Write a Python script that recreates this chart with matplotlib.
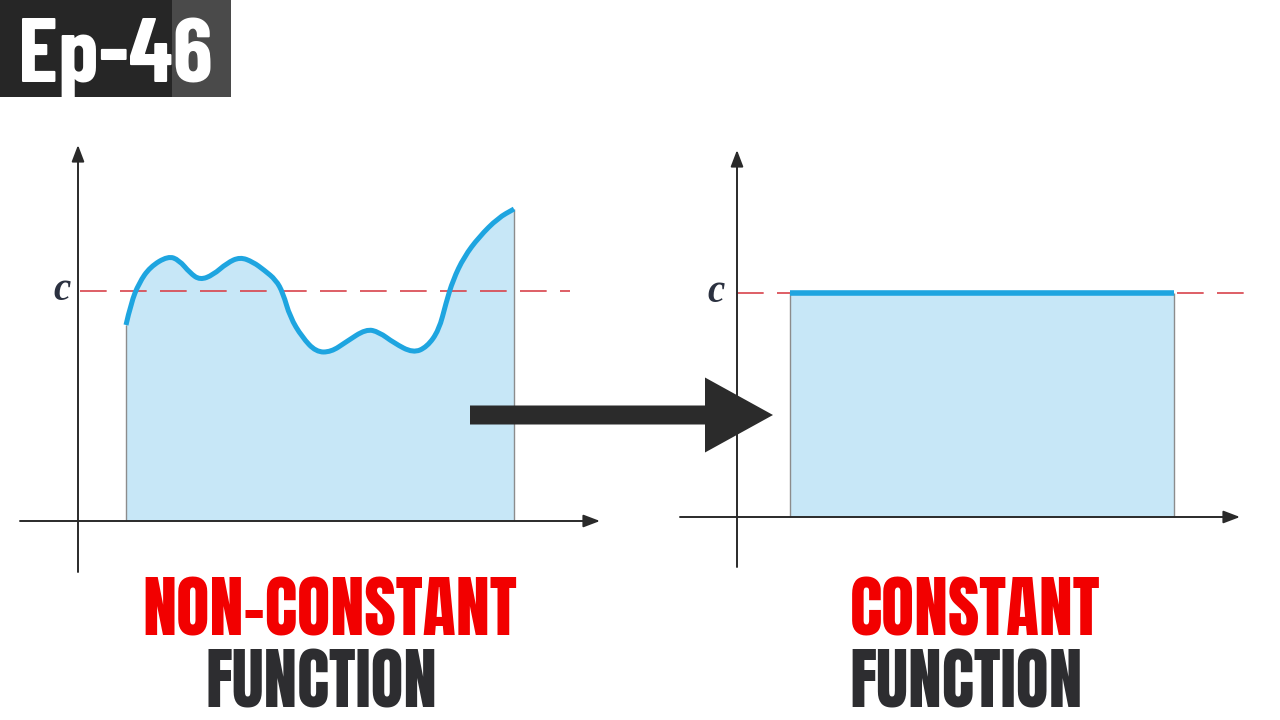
import numpy as np
import matplotlib.pyplot as plt
from matplotlib.patches import Rectangle, PathPatch
from matplotlib.path import Path

# left panel: wavy curve, units of 100 px from the axis crossing
curve_x = [0.48, 0.53, 0.61, 0.72, 0.90, 1.01, 1.12, 1.22, 1.35, 1.49, 1.62, 1.75,
           1.86, 1.98, 2.05, 2.12, 2.24, 2.38, 2.53, 2.68, 2.88, 3.01, 3.16, 3.35,
           3.49, 3.61, 3.68, 3.75, 3.86, 4.01, 4.20, 4.36]
curve_y = [1.96, 2.18, 2.38, 2.54, 2.65, 2.61, 2.48, 2.41, 2.46, 2.58, 2.64, 2.59,
           2.51, 2.41, 2.28, 2.04, 1.84, 1.69, 1.69, 1.79, 1.92, 1.89, 1.78, 1.68,
           1.74, 1.91, 2.18, 2.41, 2.64, 2.84, 3.03, 3.12]
c_left = 2.30

# right panel: constant function
const_x = [0.53, 4.37]
c_right = 2.24

labels_top = ['NON-CONSTANT', 'CONSTANT']
label_bottom = 'FUNCTION'
episode = 'Ep-46'

caption_font = dict(family=['Anton', 'DejaVu Sans'])
badge_font = dict(family=['Barlow Condensed', 'DejaVu Sans'], weight=700)
c_font = dict(family='Liberation Serif', style='italic', weight='bold', fontsize=28, color='#2b3140')

blue = '#1ea5e0'
fill = '#c7e7f7'
red_dash = '#d8434b'

fig = plt.figure(figsize=(12.8, 7.2), dpi=100)
fig.patch.set_facecolor('white')


def panel(ox, oy):
    ax = fig.add_axes([0, 0, 1, 1])
    ax.set_xlim(-ox / 100, (1280 - ox) / 100)
    ax.set_ylim(-(720 - oy) / 100, oy / 100)
    ax.axis('off')
    ax.patch.set_alpha(0)
    return ax


def draw_axes(ax, x0, x1, y0, y1):
    style = dict(arrowstyle='-|>,head_length=1.0,head_width=0.38', color='#2a2a2a',
                 lw=1.4, shrinkA=0, shrinkB=0)
    ax.annotate('', xy=(x1, 0), xytext=(x0, 0), arrowprops=style)
    ax.annotate('', xy=(0, y1), xytext=(0, y0), arrowprops=style)


def smooth(xs, ys):
    # quadratic bezier through midpoints, so the read points give a smooth stroke
    verts, codes = [], []
    for i in range(1, len(xs) - 1):
        verts += [(xs[i], ys[i]), ((xs[i] + xs[i + 1]) / 2, (ys[i] + ys[i + 1]) / 2)]
        codes += [Path.CURVE3, Path.CURVE3]
    verts.append((xs[-1], ys[-1]))
    codes.append(Path.LINETO)
    return verts, codes


# left panel
axL = panel(78, 521)
cv, cc = smooth(curve_x, curve_y)
area = Path([(curve_x[0], 0), (curve_x[0], curve_y[0])] + cv + [(curve_x[-1], 0), (curve_x[0], 0)],
            [Path.MOVETO, Path.LINETO] + cc + [Path.LINETO, Path.CLOSEPOLY])
axL.add_patch(PathPatch(area, facecolor=fill, lw=0, zorder=1))
axL.vlines([curve_x[0], curve_x[-1]], 0, [curve_y[0], curve_y[-1]], color='#8c8c8c', lw=1, zorder=2)
axL.plot([0.02, 4.92], [c_left, c_left], color=red_dash, lw=1.2, dashes=(16, 8), zorder=3)
stroke = Path([(curve_x[0], curve_y[0])] + cv, [Path.MOVETO] + cc)
axL.add_patch(PathPatch(stroke, fill=False, edgecolor=blue, lw=3.6, capstyle='butt',
                        joinstyle='round', zorder=4))
draw_axes(axL, -0.58, 5.22, -0.51, 3.76)
axL.text(-0.16, c_left, 'c', ha='center', va='center', **c_font)

# right panel
axR = panel(737, 517)
axR.fill_between(const_x, 0, c_right, color=fill, lw=0, zorder=1)
axR.vlines(const_x, 0, c_right, color='#8c8c8c', lw=1, zorder=2)
axR.plot([0.0, 5.13], [c_right, c_right], color=red_dash, lw=1.2, dashes=(16, 8), zorder=3)
axR.plot(const_x, [c_right, c_right], color=blue, lw=4, solid_capstyle='butt', zorder=4)
draw_axes(axR, -0.57, 5.03, -0.50, 3.67)
axR.text(-0.21, c_right, 'c', ha='center', va='center', **c_font)

# big transition arrow
axR.arrow(-2.67, 1.02, 3.03, 0, width=0.19, head_width=0.75, head_length=0.68,
          length_includes_head=True, color='#2b2b2b', lw=0, zorder=6)

# episode badge
fig.add_artist(Rectangle((0, 1 - 97 / 720), 172 / 1280, 97 / 720, transform=fig.transFigure,
                         color='#262626', lw=0))
fig.add_artist(Rectangle((172 / 1280, 1 - 97 / 720), 59 / 1280, 97 / 720, transform=fig.transFigure,
                         color='#4a4a4a', lw=0))

renderer = fig.canvas.get_renderer()


def fitted(xc, base, s, width, color, font):
    t = fig.text(xc / 1280, 1 - base / 720, s, color=color, fontsize=50, ha='center',
                 va='baseline', **font)
    w = t.get_window_extent(renderer).width
    t.set_fontsize(50 * width / w)
    return t


fitted(115, 82, episode, 195, 'white', badge_font)
fitted(330, 635, labels_top[0], 374, '#f20000', caption_font)
fitted(321, 708, label_bottom, 232, '#2d2d30', caption_font)
fitted(975, 635, labels_top[1], 250, '#f20000', caption_font)
fitted(966, 708, label_bottom, 233, '#2d2d30', caption_font)

fig.savefig('out.png', dpi=100)
